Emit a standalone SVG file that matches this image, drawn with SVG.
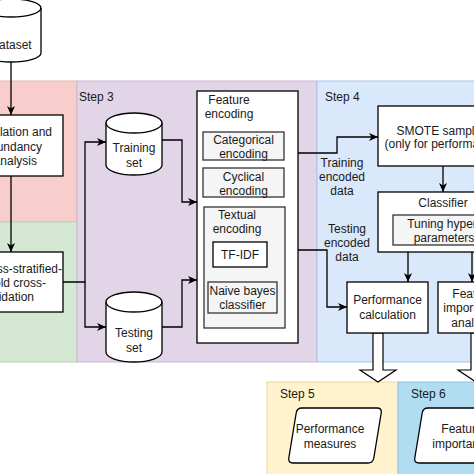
<svg xmlns="http://www.w3.org/2000/svg" width="474" height="474" viewBox="0 0 474 474">
<defs>
<marker id="ah" markerWidth="10" markerHeight="10" refX="9" refY="5" orient="auto" markerUnits="userSpaceOnUse">
<path d="M0,1 L9,5 L0,9 L2.5,5 Z" fill="#000"/>
</marker>
<style>
.t{font-family:"Liberation Sans",Arial,sans-serif;font-size:12px;fill:#1a1a1a;stroke:none;text-anchor:middle}
.e{text-anchor:end}
.s{text-anchor:start}
.b{fill:#fff;stroke:#000;stroke-width:1.3}
.g{fill:#f5f5f5;stroke:#333;stroke-width:1.3}
.c{fill:none;stroke:#000;stroke-width:1.3}
.ha{fill:#fff;stroke:#000;stroke-width:1.2}
</style>
</defs>
<rect x="0" y="0" width="474" height="474" fill="#fff"/>
<g id="panels">
<rect id="step1" x="-10" y="81" width="87" height="141" fill="#f8cecc" stroke="#e6b3b1"/>
<rect id="step2" x="-10" y="222" width="87" height="140" fill="#d5e8d4" stroke="#b7d3b5"/>
<rect id="step3" x="77" y="81" width="240" height="281" fill="#e1d5e7" stroke="#c9b6d3"/>
<rect id="step4" x="317" y="81" width="170" height="281" fill="#dae8fc" stroke="#a8c3e6"/>
<rect id="step5" x="267" y="382" width="131" height="100" fill="#fff2cc" stroke="#efd79b"/>
<rect id="step6" x="398" y="382" width="90" height="100" fill="#b1ddf0" stroke="#8cc3e0"/>
<text class="t s" x="79" y="101">Step 3</text>
<text class="t s" x="325" y="101">Step 4</text>
<text class="t s" x="280" y="398">Step 5</text>
<text class="t s" x="411" y="398">Step 6</text>
</g>
<g id="connectors">
<path class="c" d="M11,62 V115" marker-end="url(#ah)"/>
<path class="c" d="M11,176 V252" marker-end="url(#ah)"/>
<path class="c" d="M63,282 H85 V142 H106" marker-end="url(#ah)"/>
<path class="c" d="M85,282 V327 H106" marker-end="url(#ah)"/>
<path class="c" d="M162,140 H182 V202 H197" marker-end="url(#ah)"/>
<path class="c" d="M162,327 H182 V280 H197" marker-end="url(#ah)"/>
<path class="c" d="M298,153 H337 V137 H378" marker-end="url(#ah)"/>
<path class="c" d="M298,250 H327 V307 H347" marker-end="url(#ah)"/>
<path class="c" d="M443,166 V192" marker-end="url(#ah)"/>
<path class="c" d="M408,252 V282" marker-end="url(#ah)"/>
<path class="c" d="M472,252 V282" marker-end="url(#ah)"/>
<path class="c" d="M240,267 V282" marker-end="url(#ah)"/>
<polygon class="ha" points="373,333 383,333 383,370 396,370 378,382 360,370 373,370"/>
<polygon class="ha" points="471,333 481,333 481,370 494,370 476,382 458,370 471,370"/>
</g>
<g id="connector-labels">
<text class="t" x="342" y="167">Training</text>
<text class="t" x="342" y="181">encoded</text>
<text class="t" x="342" y="195">data</text>
<text class="t" x="347" y="233">Testing</text>
<text class="t" x="347" y="247">encoded</text>
<text class="t" x="347" y="261">data</text>
</g>
<g id="dataset">
<path class="b" d="M-19,8 V53 A30,9 0 0 0 41,53 V8 A30,9 0 0 0 -19,8 Z"/>
<path class="c" d="M-19,8 A30,9 0 0 0 41,8"/>
<text class="t" x="11" y="49">Dataset</text>
</g>
<g id="correlation">
<rect class="b" x="-43" y="115" width="106" height="61"/>
<text class="t e" x="52" y="136">Correlation and</text>
<text class="t e" x="42" y="151">redundancy</text>
<text class="t e" x="37" y="165">analysis</text>
</g>
<g id="kfold">
<rect class="b" x="-43" y="252" width="106" height="60"/>
<text class="t e" x="62" y="273">Class-stratified-</text>
<text class="t e" x="46" y="287">k-fold cross-</text>
<text class="t e" x="34" y="301">validation</text>
</g>
<g id="training">
<path class="b" d="M106,123 V165 A28,10 0 0 0 162,165 V123 A28,10 0 0 0 106,123 Z"/>
<path class="c" d="M106,123 A28,10 0 0 0 162,123"/>
<text class="t" x="134" y="152">Training</text>
<text class="t" x="134" y="167">set</text>
</g>
<g id="testing">
<path class="b" d="M106,302 V352 A28,10 0 0 0 162,352 V302 A28,10 0 0 0 106,302 Z"/>
<path class="c" d="M106,302 A28,10 0 0 0 162,302"/>
<text class="t" x="134" y="337">Testing</text>
<text class="t" x="134" y="352">set</text>
</g>
<g id="feature-encoding">
<rect class="b" x="197" y="91" width="101" height="252"/>
<text class="t" x="229" y="104">Feature</text>
<text class="t" x="229" y="118">encoding</text>
</g>
<g id="categorical">
<rect class="g" x="203" y="132" width="81" height="28"/>
<text class="t" x="243.5" y="144">Categorical</text>
<text class="t" x="243.5" y="158">encoding</text>
</g>
<g id="cyclical">
<rect class="g" x="203" y="168" width="81" height="29"/>
<text class="t" x="243.5" y="181">Cyclical</text>
<text class="t" x="243.5" y="195">encoding</text>
</g>
<g id="textual">
<rect class="g" x="204" y="207" width="81" height="121"/>
<text class="t" x="237" y="219">Textual</text>
<text class="t" x="237" y="233">encoding</text>
</g>
<g id="tfidf">
<rect class="b" x="213" y="242" width="54" height="25"/>
<text class="t" x="240" y="259">TF-IDF</text>
</g>
<g id="naive-bayes">
<rect class="g" x="208" y="282" width="69" height="31"/>
<text class="t" x="242.5" y="295">Naive bayes</text>
<text class="t" x="242.5" y="309">classifier</text>
</g>
<g id="smote">
<rect class="b" x="378" y="106" width="131" height="60"/>
<text class="t" x="443.5" y="135">SMOTE sampling</text>
<text class="t" x="443.5" y="148">(only for performance)</text>
</g>
<g id="classifier">
<rect class="b" x="378" y="192" width="131" height="60"/>
<text class="t" x="443" y="207">Classifier</text>
</g>
<g id="tuning">
<rect class="g" x="393" y="215" width="102" height="30"/>
<text class="t" x="444" y="228">Tuning hyper-</text>
<text class="t" x="444" y="242">parameters</text>
</g>
<g id="performance-calc">
<rect class="b" x="347" y="282" width="81" height="51"/>
<text class="t" x="387.5" y="304">Performance</text>
<text class="t" x="387.5" y="319">calculation</text>
</g>
<g id="feature-importance-analysis">
<rect class="b" x="438" y="282" width="70" height="51"/>
<text class="t" x="473" y="298">Feature</text>
<text class="t" x="473" y="312">importance</text>
<text class="t" x="473" y="327">analysis</text>
</g>
<g id="performance-measures">
<path class="b" d="M302,408 H377 Q382,408 381.2,413 L373.8,458 Q373,463 368,463 H293 Q288,463 288.8,458 L296.2,413 Q297,408 302,408 Z"/>
<text class="t" x="330" y="433">Performance</text>
<text class="t" x="330" y="448">measures</text>
</g>
<g id="feature-importance">
<path class="b" d="M428,408 H503 Q508,408 507.2,413 L499.8,458 Q499,463 494,463 H419 Q414,463 414.8,458 L422.2,413 Q423,408 428,408 Z"/>
<text class="t" x="462" y="433">Feature</text>
<text class="t" x="462" y="448">importance</text>
</g>
</svg>
